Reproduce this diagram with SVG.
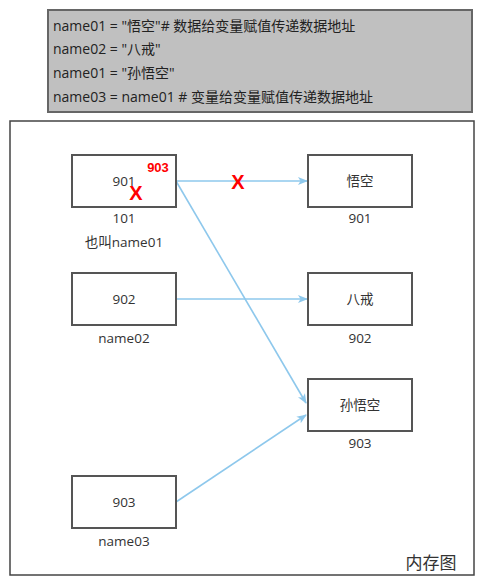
<svg xmlns="http://www.w3.org/2000/svg" width="484" height="584" viewBox="0 0 484 584">
<style>
text{font-family:"Open Sans","Noto Sans CJK SC",sans-serif;font-size:13.5px;fill:#333}
.code{font-size:14px;fill:#222}
.box{fill:#fff;stroke:#555;stroke-width:2}
.c{text-anchor:middle}
.red{fill:#f00;font-weight:bold;font-family:"Liberation Sans","Noto Sans CJK SC",sans-serif}
.ln{stroke:#8ec8ec;stroke-width:1.6;fill:none;marker-end:url(#ah)}
</style>
<defs>
<marker id="ah" markerWidth="10" markerHeight="10" refX="9" refY="5" orient="auto" markerUnits="userSpaceOnUse"><path d="M0,1 L10,5 L0,9 L2.5,5 Z" fill="#8ec8ec"/></marker>
</defs>
<g id="code">
<rect x="48" y="10" width="424" height="102" fill="#c0c0c0" stroke="#666" stroke-width="2"/>
<text class="code" x="53" y="31">name01 = "悟空"# 数据给变量赋值传递数据地址</text>
<text class="code" x="53" y="54">name02 = "八戒"</text>
<text class="code" x="53" y="78">name01 = "孙悟空"</text>
<text class="code" x="53" y="102">name03 = name01 # 变量给变量赋值传递数据地址</text>
</g>
<g id="memory">
<rect x="10" y="121" width="464" height="454" fill="#fff" stroke="#444" stroke-width="1.5"/>
<text x="431" y="569" class="c" style="font-size:17px">内存图</text>
</g>
<g id="connectors">
<line class="ln" x1="176" y1="181" x2="307" y2="181"/>
<line class="ln" x1="176" y1="181" x2="306" y2="403"/>
<line class="ln" x1="176" y1="299" x2="307" y2="299"/>
<line class="ln" x1="176" y1="502" x2="306" y2="415"/>
</g>
<g id="n101">
<rect class="box" x="72" y="155" width="104" height="52"/>
<text x="124" y="186" class="c">901</text>
<text x="158" y="172" class="c red" style="font-size:13px">903</text>
<text x="136" y="200" class="c red" style="font-size:20px">X</text>
<text x="124" y="223" class="c">101</text>
<text x="124" y="247" class="c">也叫name01</text>
</g>
<g id="n902">
<rect class="box" x="72" y="273" width="104" height="52"/>
<text x="124" y="304" class="c">902</text>
<text x="124" y="343" class="c">name02</text>
</g>
<g id="n903">
<rect class="box" x="72" y="476" width="104" height="52"/>
<text x="124" y="507" class="c">903</text>
<text x="124" y="546" class="c">name03</text>
</g>
<g id="x2"><text x="238" y="189" class="c red" style="font-size:20px">X</text></g>
<g id="wukong">
<rect class="box" x="308" y="155" width="104" height="52"/>
<text x="360" y="186" class="c">悟空</text>
<text x="360" y="223" class="c">901</text>
</g>
<g id="bajie">
<rect class="box" x="308" y="273" width="104" height="52"/>
<text x="360" y="304" class="c">八戒</text>
<text x="360" y="343" class="c">902</text>
</g>
<g id="sunwukong">
<rect class="box" x="308" y="379" width="104" height="52"/>
<text x="360" y="410" class="c">孙悟空</text>
<text x="360" y="448" class="c">903</text>
</g>
</svg>
